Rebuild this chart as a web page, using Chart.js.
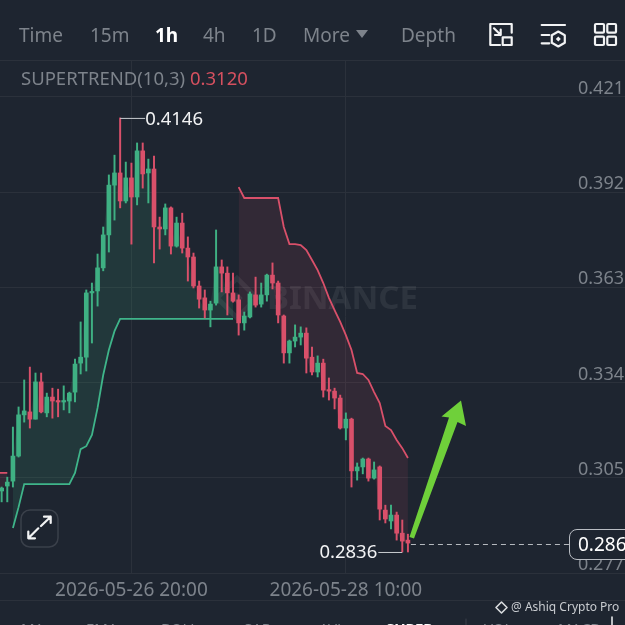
<!DOCTYPE html>
<html>
<head>
<meta charset="utf-8">
<script src="https://cdn.jsdelivr.net/npm/chart.js@4"></script>
<style>
  html, body { margin: 0; padding: 0; }
  body { width: 625px; height: 625px; background: #1e2530; overflow: hidden; position: relative; font-family: "Noto Sans", sans-serif; }
  canvas { position: absolute; left: -4px; top: 0; }
  .t { position: absolute; white-space: nowrap; line-height: 1; color: #7d838b; }
  .tab { font-size: 19px; top: 26px; }
  .rule { position: absolute; left: 0; width: 625px; height: 1px; background: #2b313b; }
  svg { position: absolute; left: 0; top: 0; }
  #tag { position: absolute; left: 569px; top: 529px; width: 70px; height: 29px; border: 1px solid #b9bdc3; border-radius: 8px; background: #1e2530; color: #fff; font-size: 19px; line-height: 29px; padding-left: 8px; box-sizing: content-box; }
</style>
</head>
<body>
<canvas id="chart" width="632" height="625"></canvas>

<span class="t tab" style="left:19px">Time</span>
<span class="t tab" style="left:90px">15m</span>
<span class="t tab" style="left:155px;color:#fff;font-weight:700">1h</span>
<span class="t tab" style="left:203px">4h</span>
<span class="t tab" style="left:252px">1D</span>
<span class="t tab" style="left:303px">More</span>
<span class="t tab" style="left:401px">Depth</span>
<span class="t" style="left:21px;top:69px;font-size:18.5px">SUPERTREND(10,3) <span style="color:#d5505f">0.3120</span></span>
<div class="rule" style="top:60px"></div>
<div class="rule" style="top:600px"></div>

<span class="t" style="left:511px;top:601px;font-size:12px;color:#c9ccd0">@ Ashiq Crypto Pro</span>
<span class="t" style="left:21px;top:621px;font-size:15px">MA</span>
<span class="t" style="left:86px;top:621px;font-size:15px">EMA</span>
<span class="t" style="left:161px;top:621px;font-size:15px">BOLL</span>
<span class="t" style="left:244px;top:621px;font-size:15px">SAR</span>
<span class="t" style="left:319px;top:621px;font-size:15px">AVL</span>
<span class="t" style="left:386px;top:621px;font-size:15px;color:#fff;font-weight:700">SUPER</span>
<span class="t" style="left:484px;top:621px;font-size:15px">VOL</span>
<span class="t" style="left:558px;top:621px;font-size:15px">MACD</span>

<div id="tag">0.286</div>

<svg width="625" height="625" fill="none" stroke-linecap="round" stroke-linejoin="round">
  <!-- dropdown triangle -->
  <path d="M356 30h12l-6 8z" fill="#7d838b"/>
  <!-- header icons -->
  <g stroke="#f2f3f4" stroke-width="2.2">
    <path d="M511.7 32.7V24H490.3V45H500"/>
    <rect x="502.7" y="37.3" width="9" height="7.7"/>
    <path d="M494 28.3L500.7 35M500.7 29.5V35H495"/>
    <path d="M541.7 25H565M541.7 35H549.3M541.7 43.3H549.3"/>
    <path d="M558.3 31.5L564.8 35.2V42.8L558.3 46.5L551.8 42.8V35.2Z"/>
    <rect x="595" y="24" width="9" height="8.7" rx="1"/>
    <rect x="607.3" y="24" width="8.7" height="8.7" rx="1"/>
    <rect x="595" y="36.7" width="9" height="8.3" rx="1"/>
    <rect x="607.3" y="36.7" width="8.7" height="8.3" rx="1"/>
  </g>
  <path d="M558.3 36.5l2.5 2.5-2.5 2.5-2.5-2.5z" fill="#f2f3f4"/>
  <!-- expand button -->
  <rect x="21" y="510" width="37" height="37" rx="9" stroke="#3a404a" stroke-width="1.5"/>
  <path d="M41 526L50.7 516.7M44 516.7H50.7V523M38.3 528.3L28.3 538.3M28.3 531.5V538.3H35" stroke="#f2f3f4" stroke-width="2.2"/>
  <!-- arrow drawn over the chart -->
  <path d="M409.5 537L449 417.5L441.5 416.5L461 400.5L466 426L457.5 422L414 538.5Z" fill="#6fd03a"/>
  <!-- watermark diamond -->
  <path d="M501.5 602l5.5 5.5-5.5 5.5-5.5-5.5z" stroke="#d9dbde" stroke-width="1.6"/>
  <path d="M612 617v8" stroke="#f2f3f4" stroke-width="1.5"/>
  <path d="M466 619v6" stroke="#3a404a" stroke-width="1"/>
</svg>

<script>
// hourly candles, index 24 is 2026-05-26 20:00
const opens = [
  0.2999, 0.3014, 0.3029, 0.3044, 0.3120, 0.3245, 0.3254, 0.3232, 0.3345, 0.3251,
  0.3299, 0.3287, 0.3284, 0.3287, 0.3314, 0.3402, 0.3420, 0.3615, 0.3621, 0.3691,
  0.3791, 0.3942, 0.3979, 0.3894, 0.3964, 0.3906, 0.4046, 0.3979, 0.3991, 0.3815,
  0.3809, 0.3873, 0.3757, 0.3827, 0.3751, 0.3724, 0.3636, 0.3600, 0.3563, 0.3584,
  0.3694, 0.3675, 0.3615, 0.3594, 0.3524, 0.3542, 0.3609, 0.3581, 0.3609, 0.3669,
  0.3645, 0.3545, 0.3433, 0.3469, 0.3481, 0.3493, 0.3420, 0.3375, 0.3402, 0.3320,
  0.3317, 0.3296, 0.3205, 0.3232, 0.3075, 0.3087, 0.3111, 0.3053, 0.3087, 0.2956,
  0.2923, 0.2941, 0.2886, 0.2865
];
const highs = [
  0.3017, 0.3026, 0.3056, 0.3208, 0.3269, 0.3351, 0.3390, 0.3372, 0.3372, 0.3311,
  0.3326, 0.3323, 0.3333, 0.3314, 0.3414, 0.3527, 0.3624, 0.3645, 0.3733, 0.3815,
  0.3973, 0.4033, 0.4146, 0.4012, 0.4009, 0.4070, 0.4070, 0.4021, 0.4030, 0.3845,
  0.3885, 0.3876, 0.3845, 0.3857, 0.3785, 0.3736, 0.3651, 0.3624, 0.3590, 0.3806,
  0.3715, 0.3694, 0.3675, 0.3609, 0.3557, 0.3618, 0.3663, 0.3645, 0.3672, 0.3706,
  0.3651, 0.3548, 0.3472, 0.3518, 0.3512, 0.3509, 0.3451, 0.3424, 0.3414, 0.3357,
  0.3326, 0.3305, 0.3251, 0.3235, 0.3099, 0.3114, 0.3114, 0.3102, 0.3090, 0.2971,
  0.2971, 0.2950, 0.2926, 0.2883
];
const lows = [
  0.2987, 0.2981, 0.2981, 0.3026, 0.3117, 0.3223, 0.3205, 0.3232, 0.3251, 0.3239,
  0.3235, 0.3239, 0.3260, 0.3251, 0.3284, 0.3369, 0.3378, 0.3463, 0.3575, 0.3682,
  0.3739, 0.3836, 0.3873, 0.3888, 0.3763, 0.3882, 0.3933, 0.3888, 0.3706, 0.3748,
  0.3791, 0.3733, 0.3754, 0.3736, 0.3651, 0.3630, 0.3569, 0.3539, 0.3512, 0.3578,
  0.3618, 0.3548, 0.3587, 0.3487, 0.3502, 0.3539, 0.3572, 0.3572, 0.3590, 0.3627,
  0.3524, 0.3402, 0.3402, 0.3451, 0.3457, 0.3372, 0.3366, 0.3360, 0.3299, 0.3290,
  0.3263, 0.3202, 0.3169, 0.3026, 0.3047, 0.3066, 0.3044, 0.3050, 0.2926, 0.2917,
  0.2899, 0.2865, 0.2829, 0.2829
];
const closes = [
  0.3011, 0.3023, 0.3041, 0.3120, 0.3245, 0.3257, 0.3232, 0.3345, 0.3254, 0.3299,
  0.3287, 0.3284, 0.3287, 0.3311, 0.3399, 0.3420, 0.3615, 0.3618, 0.3691, 0.3791,
  0.3942, 0.3979, 0.3894, 0.3964, 0.3906, 0.4046, 0.3976, 0.3991, 0.3815, 0.3809,
  0.3873, 0.3757, 0.3827, 0.3751, 0.3724, 0.3636, 0.3596, 0.3563, 0.3581, 0.3694,
  0.3675, 0.3615, 0.3590, 0.3524, 0.3545, 0.3612, 0.3578, 0.3609, 0.3669, 0.3645,
  0.3548, 0.3433, 0.3469, 0.3481, 0.3493, 0.3417, 0.3375, 0.3402, 0.3320, 0.3317,
  0.3296, 0.3205, 0.3232, 0.3075, 0.3087, 0.3111, 0.3053, 0.3078, 0.2959, 0.2929,
  0.2941, 0.2886, 0.2862, 0.2856
];
const supertrendUp = [
  null, null, null, 0.2902, 0.2965, 0.3035, 0.3035, 0.3035, 0.3035, 0.3035,
  0.3035, 0.3035, 0.3035, 0.3035, 0.3069, 0.3141, 0.3150, 0.3184, 0.3266, 0.3366,
  0.3442, 0.3499, 0.3536, 0.3536, 0.3536, 0.3536, 0.3536, 0.3536, 0.3536, 0.3536,
  0.3536, 0.3536, 0.3536, 0.3536, 0.3536, 0.3536, 0.3536, 0.3536, 0.3536, 0.3536,
  0.3536, 0.3536, 0.3536, null, null, null, null, null, null, null,
  null, null, null, null, null, null, null, null, null, null,
  null, null, null, null, null, null, null, null, null, null,
  null, null, null, null
];
const supertrendDown = [
  0.3069, 0.3069, 0.3069, null, null, null, null, null, null, null,
  null, null, null, null, null, null, null, null, null, null,
  null, null, null, null, null, null, null, null, null, null,
  null, null, null, null, null, null, null, null, null, null,
  null, null, null, 0.3936, 0.3903, 0.3903, 0.3903, 0.3903, 0.3903, 0.3903,
  0.3903, 0.3815, 0.3763, 0.3763, 0.3760, 0.3745, 0.3715, 0.3684, 0.3645, 0.3600,
  0.3563, 0.3527, 0.3487, 0.3442, 0.3372, 0.3369, 0.3351, 0.3314, 0.3281, 0.3211,
  0.3199, 0.3169, 0.3144, 0.3114
];
const yTickValues = [0.421, 0.3921, 0.3632, 0.3343, 0.3054, 0.2765];
const yTickLabels = ['0.421', '0.392', '0.363', '0.334', '0.305', '0.277'];
const xTickLabels = ['2026-05-26 20:00', '2026-05-28 10:00'];
const lastPrice = 0.2853;
const highText = '0.4146';
const lowText = '0.2836';

// time axis runs on past the last candle, the right side of the chart is empty
const times = [];
for (let h = 0; h < 113; h++) {
  const d = new Date(Date.UTC(2026, 4, 25, 20 + h));
  times.push(d.toISOString().slice(0, 10) + ' ' + d.toISOString().slice(11, 16));
}

const GREEN = '#3fb083';
const RED = '#d9506a';
const GRID = '#2b313b';
const TEXT = '#7d838b';
const up = opens.map((o, i) => closes[i] >= o);

// watermark sits behind the candles, price callouts on top of them
const overlay = {
  id: 'overlay',
  beforeDatasetsDraw(chart) {
    const ctx = chart.ctx;
    ctx.save();
    ctx.fillStyle = 'rgba(255,255,255,0.07)';
    ctx.font = '700 33px "Noto Sans"';
    ctx.textAlign = 'left';
    ctx.textBaseline = 'middle';
    ctx.fillText('BINANCE', 271, 300);
    ctx.strokeStyle = 'rgba(255,255,255,0.07)';
    ctx.lineWidth = 5;
    ctx.translate(241, 298);
    ctx.rotate(Math.PI / 4);
    ctx.strokeRect(-14, -14, 28, 28);
    ctx.fillRect(-4, -4, 8, 8);
    ctx.restore();
  },
  afterDatasetsDraw(chart) {
    const { ctx, scales: { x, y } } = chart;
    const hi = highs.indexOf(Math.max(...highs));
    const lo = 72;
    ctx.save();
    ctx.font = '18.5px "Noto Sans"';
    ctx.textBaseline = 'middle';
    ctx.strokeStyle = '#c9ccd0';
    ctx.lineWidth = 1;

    const hiX = x.getPixelForValue(hi);
    const hiY = y.getPixelForValue(highs[hi]);
    ctx.beginPath();
    ctx.moveTo(hiX, hiY + 0.5);
    ctx.lineTo(hiX + 25, hiY + 0.5);
    ctx.stroke();
    ctx.fillStyle = '#f2f3f4';
    ctx.textAlign = 'left';
    ctx.fillText(highText, hiX + 25, hiY + 2);

    const loX = x.getPixelForValue(lo);
    const loY = y.getPixelForValue(lows[lo]);
    ctx.beginPath();
    ctx.moveTo(loX, loY + 0.5);
    ctx.lineTo(loX - 24, loY + 0.5);
    ctx.stroke();
    ctx.textAlign = 'right';
    ctx.fillText(lowText, loX - 25, loY + 1);

    ctx.setLineDash([5, 4]);
    ctx.lineWidth = 1.2;
    ctx.strokeStyle = '#b5b9be';
    const lastY = Math.round(y.getPixelForValue(lastPrice)) + 0.5;
    ctx.beginPath();
    ctx.moveTo(x.getPixelForValue(73) + 3, lastY);
    ctx.lineTo(573, lastY);
    ctx.stroke();
    ctx.restore();
  }
};

new Chart(document.getElementById('chart'), {
  data: {
    labels: times,
    datasets: [
      {
        // hidden close line, only the supertrend fill uses it
        type: 'line',
        data: closes,
        borderWidth: 0,
        pointRadius: 0,
        order: 5
      },
      {
        type: 'line',
        data: supertrendUp,
        borderColor: '#3fb58a',
        borderWidth: 1.8,
        pointRadius: 0,
        backgroundColor: 'rgba(63,176,131,0.14)',
        fill: 0,
        order: 4
      },
      {
        type: 'line',
        data: supertrendDown,
        borderColor: '#d9506a',
        borderWidth: 1.8,
        pointRadius: 0,
        backgroundColor: 'rgba(217,80,106,0.11)',
        fill: 0,
        order: 3
      },
      {
        type: 'bar',
        data: lows.map((l, i) => [l, highs[i]]),
        backgroundColor: up.map(u => (u ? GREEN : RED)),
        barThickness: 1.3,
        grouped: false,
        order: 2
      },
      {
        type: 'bar',
        data: opens.map((o, i) => [o, closes[i]]),
        backgroundColor: up.map(u => (u ? GREEN : RED)),
        barThickness: 4,
        minBarLength: 1.5,
        grouped: false,
        order: 1
      }
    ]
  },
  plugins: [overlay],
  options: {
    responsive: false,
    animation: false,
    layout: { padding: { top: 60 } },
    plugins: { legend: { display: false }, tooltip: { enabled: false } },
    scales: {
      x: {
        type: 'category',
        offset: false,
        grid: { color: GRID, drawTicks: false, offset: false },
        border: { display: false },
        afterBuildTicks: s => {
          s.ticks = s.ticks.filter(t => xTickLabels.includes(s.getLabelForValue(t.value)));
        },
        afterFit: s => { s.height = 52; },
        ticks: {
          autoSkip: false,
          maxRotation: 0,
          minRotation: 0,
          padding: 6,
          color: TEXT,
          font: { family: 'Noto Sans', size: 19 }
        }
      },
      y: {
        type: 'linear',
        position: 'right',
        min: 0.27652,
        max: 0.43217,
        grid: { color: GRID, drawTicks: false },
        border: { display: false },
        afterBuildTicks: s => {
          s.ticks = yTickValues.map(v => ({ value: v }));
        },
        afterFit: s => { s.width = 0; },
        ticks: {
          mirror: true,
          padding: -4,
          labelOffset: -8,
          color: TEXT,
          font: { family: 'Noto Sans', size: 18 },
          callback: (v, i) => yTickLabels[i]
        }
      }
    }
  }
});
</script>
</body>
</html>
